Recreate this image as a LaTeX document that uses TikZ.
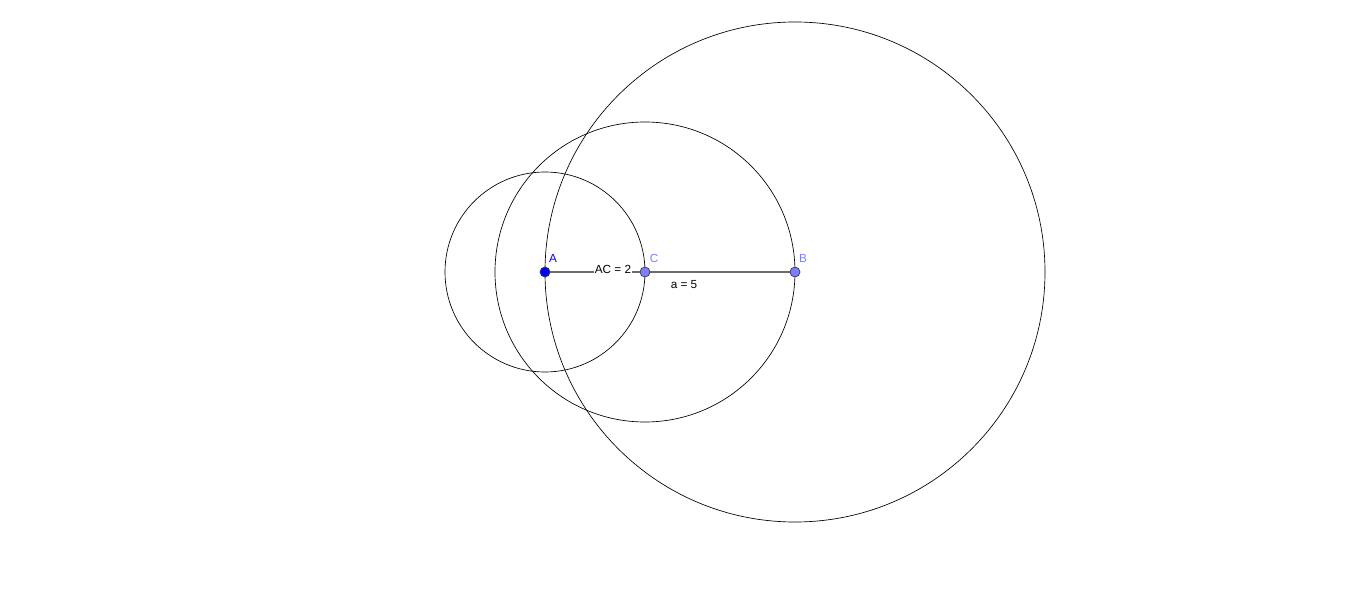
\documentclass[tikz,border=0pt]{standalone}
\usepackage{fontspec}
\setmainfont{Liberation Sans}
\definecolor{ptdark}{RGB}{0,0,255}
\definecolor{ptlight}{RGB}{125,125,255}
\definecolor{seggray}{RGB}{110,110,110}
\tikzset{
  pt/.style={circle,draw=black!80,line width=0.5pt,inner sep=0pt,minimum size=7.5pt},
  ptlabel/.style={font=\fontsize{8.8}{10}\selectfont,inner sep=1pt}
}
\begin{document}
\begin{tikzpicture}[x=37.5pt,y=37.5pt]
  \useasboundingbox (-10.9,-6.40) rectangle (16.46,5.44);
  \coordinate (A) at (0,0);
  \coordinate (C) at (2,0);
  \coordinate (B) at (5,0);
  \draw[line width=0.5pt] (A) circle (2);
  \draw[line width=0.5pt] (C) circle (3);
  \draw[line width=0.5pt] (B) circle (5);
  \draw[seggray,line width=0.9pt] (A) -- (C) -- (B);
  \node[ptlabel,fill=white] (lac) at (1.36,0.06) {AC = 2};
  \node[ptlabel] (la) at (2.78,-0.26) {a = 5};
  \node[pt,fill=ptdark] (pa) at (A) {};
  \node[pt,fill=ptlight] (pc) at (C) {};
  \node[pt,fill=ptlight] (pb) at (B) {};
  \node[ptlabel,text=ptdark] at (0.16,0.28) {A};
  \node[ptlabel,text=ptlight] at (2.18,0.28) {C};
  \node[ptlabel,text=ptlight] at (5.16,0.28) {B};
\end{tikzpicture}
\end{document}
